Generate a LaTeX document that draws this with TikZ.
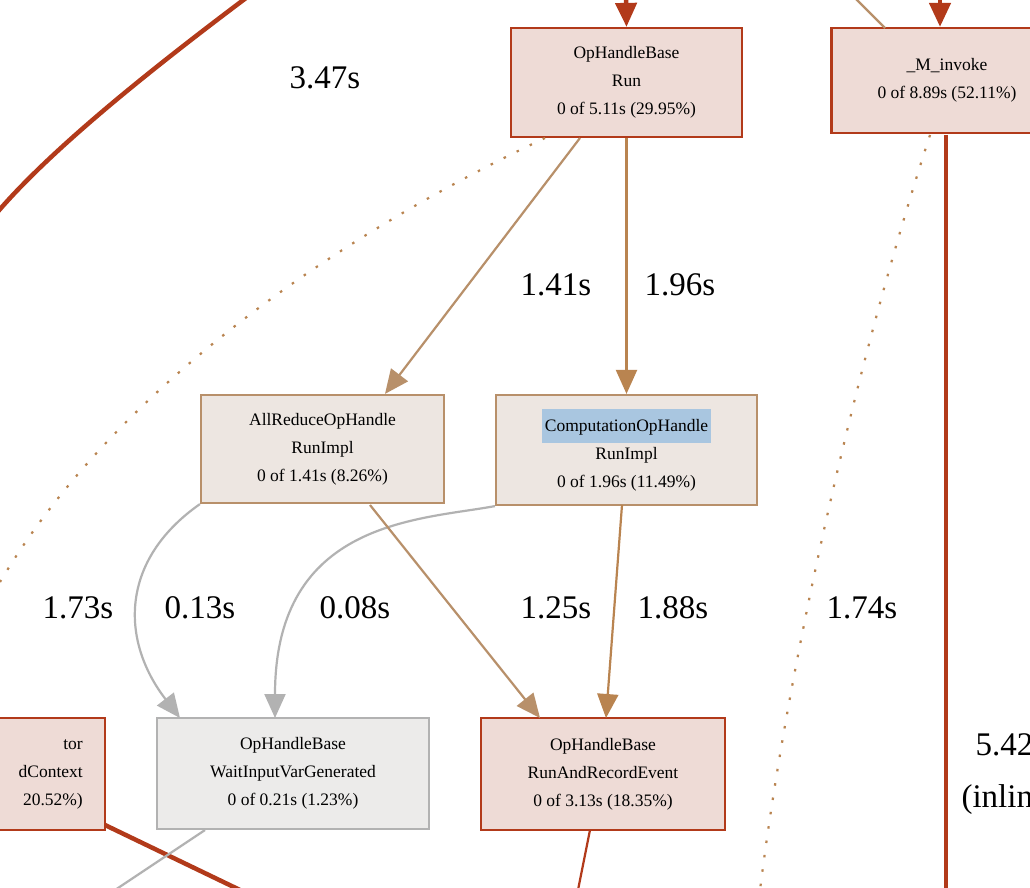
\documentclass[tikz,border=0pt]{standalone}
\usepackage{fontspec}
\setmainfont{Liberation Serif}
\usetikzlibrary{arrows.meta}
\definecolor{red1}{HTML}{B23A1A}
\definecolor{redf}{HTML}{EEDBD6}
\definecolor{tan1}{HTML}{B8906A}
\definecolor{tanf}{HTML}{EDE6E1}
\definecolor{tan2}{HTML}{B98450}
\definecolor{gray1}{HTML}{B2B2B2}
\definecolor{grayf}{HTML}{ECEBEA}
\definecolor{hl}{HTML}{A9C6E0}
\begin{document}
\begin{tikzpicture}[x=1pt,y=-1pt,
 box/.style={draw,line width=2.2pt,align=center,font=\fontsize{17.5}{28}\selectfont,inner sep=0pt},
 rbox/.style={box,draw=red1,fill=redf},
 tbox/.style={box,draw=tan1,fill=tanf},
 gbox/.style={box,draw=gray1,fill=grayf},
 lbl/.style={font=\fontsize{33}{38}\selectfont},
 arr/.style={-{Triangle[length=24pt,width=21pt]}},
 te/.style={draw=tan1,line width=2.2pt},
 te2/.style={draw=tan2,line width=2.2pt},
 ge/.style={draw=gray1,line width=2.2pt},
 re/.style={draw=red1,line width=4.5pt},
 de/.style={draw=tan2,line width=2.2pt,dash pattern=on 2.5pt off 12pt}]
\useasboundingbox (0,0) rectangle (1030,888);
\clip (0,0) rectangle (1030,888);
\fill[white] (0,0) rectangle (1030,888);
% nodes
\node[rbox,minimum width=231pt,minimum height=109pt] (run) at (626.5,82.5) {OpHandleBase\\Run\\0 of 5.11s (29.95\%)};
\node[rbox,minimum width=231pt,minimum height=105pt] (inv) at (947,80.5) {\_M\_invoke\\0 of 8.89s (52.11\%)};
\node[tbox,minimum width=243pt,minimum height=108pt] (ar) at (322.5,449) {AllReduceOpHandle\\RunImpl\\0 of 1.41s (8.26\%)};
\node[tbox,minimum width=261pt,minimum height=110pt] (cp) at (626.5,450) {\colorbox{hl}{\strut ComputationOpHandle}\\RunImpl\\0 of 1.96s (11.49\%)};
\node[rbox,minimum width=220pt,minimum height=112pt] (ex) at (-5,774) {};
\node[font=\fontsize{17.5}{28}\selectfont,align=right,anchor=east,inner sep=0pt] (ext) at (83,774) {tor\\dContext\\20.52\%)};
\node[gbox,minimum width=272pt,minimum height=111pt] (wt) at (293,773.5) {OpHandleBase\\WaitInputVarGenerated\\0 of 0.21s (1.23\%)};
\node[rbox,minimum width=244pt,minimum height=112pt] (rr) at (603,774) {OpHandleBase\\RunAndRecordEvent\\0 of 3.13s (18.35\%)};
% free ends
\coordinate (t1) at (626,-2); \coordinate (t2) at (940,-2); \coordinate (t3) at (855,-2);
\coordinate (b1) at (946,890); \coordinate (b2) at (760,890); \coordinate (b3) at (240,890);
\coordinate (b4) at (115,890); \coordinate (b5) at (578,890); \coordinate (l1) at (0,582);
% edges
\draw[re,arr] (t1) -- (run.north);
\draw[re,arr] (t2) -- (inv.north -| t2);
\draw[te] (t3) -- (885,28);
\draw[re] (250,-5) .. controls (150,70) and (50,150) .. (-5,215);
\draw[te,arr] (580,138) -- (ar.north -| 385,0);
\draw[te2,arr] (run.south) -- (cp.north);
\draw[de] (545,138) .. controls (350,230) and (120,380) .. (l1);
\draw[ge,arr] (ar.south west) .. controls (120,560) and (120,640) .. (180,718);
\draw[ge,arr] (cp.south west) .. controls (420,520) and (275,520) .. (275,718);
\draw[te,arr] (370,505) -- (540,718);
\draw[te2,arr] (622,505) -- (606,718);
\draw[de] (930,135) .. controls (860,350) and (790,650) .. (b2);
\draw[re] (946,135) -- (b1);
\draw[re] (105,825) -- (b3);
\draw[ge] (205,830) -- (b4);
\draw[draw=red1,line width=2.2pt] (590,830) -- (b5);
% labels
\node[lbl] at (325,78) {3.47s};
\node[lbl] at (556,285) {1.41s};
\node[lbl] at (680,285) {1.96s};
\node[lbl] at (78,608) {1.73s};
\node[lbl] at (200,608) {0.13s};
\node[lbl] at (355,608) {0.08s};
\node[lbl] at (556,608) {1.25s};
\node[lbl] at (673,608) {1.88s};
\node[lbl] at (862,608) {1.74s};
\node[lbl,anchor=west] at (972,745) {5.42};
\node[lbl,anchor=west] at (958,800) {(inline)};
\end{tikzpicture}
\end{document}
